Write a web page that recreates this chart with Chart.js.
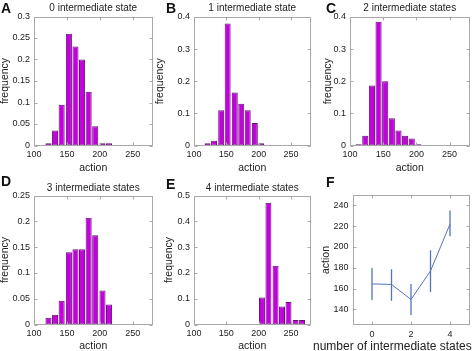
<!DOCTYPE html>
<html><head><meta charset="utf-8">
<script src="https://cdn.jsdelivr.net/npm/chart.js@4.4.0/dist/chart.umd.min.js"></script>
<style>
html,body{margin:0;padding:0;background:#fff;overflow:hidden;width:474px;height:351px;position:relative;}
canvas{position:absolute;left:0;top:0;}
.lbl{position:absolute;font-family:"Liberation Sans",Arial,sans-serif;color:#111;white-space:nowrap;}
.letter{font-weight:bold;font-size:14px;line-height:14px;}
.ttl{font-size:10px;line-height:10px;text-align:center;color:#222;}
.xl{font-size:12px;line-height:12px;color:#222;}
</style></head><body>
<canvas id="cA" width="474" height="351"></canvas>
<canvas id="cB" width="474" height="351"></canvas>
<canvas id="cC" width="474" height="351"></canvas>
<canvas id="cD" width="474" height="351"></canvas>
<canvas id="cE" width="474" height="351"></canvas>
<canvas id="cF" width="474" height="351"></canvas>
<div class="lbl letter" style="left:1px;top:0.5px">A</div>
<div class="lbl letter" style="left:166px;top:0.5px">B</div>
<div class="lbl letter" style="left:326px;top:0.5px">C</div>
<div class="lbl letter" style="left:1px;top:174px">D</div>
<div class="lbl letter" style="left:166px;top:177px">E</div>
<div class="lbl letter" style="left:326px;top:175px">F</div>
<div class="lbl ttl" id="tA"></div>
<div class="lbl ttl" id="tB"></div>
<div class="lbl ttl" id="tC"></div>
<div class="lbl ttl" id="tD"></div>
<div class="lbl ttl" id="tE"></div>
<div class="lbl xl" id="xF"></div>
<script>
// ---------- data ----------
const titles = ["0 intermediate state", "1 intermediate state", "2 intermediate states", "3 intermediate states", "4 intermediate states"];
const actionTicks = [100, 150, 200, 250];

const binsA = [122, 132, 142, 153, 163, 173, 183, 193, 204, 214];
const freqA = [0.005, 0.035, 0.095, 0.26, 0.23, 0.2, 0.125, 0.045, 0.005, 0.005];
const yTicksA = [0, 0.05, 0.1, 0.15, 0.2, 0.25, 0.3];

const binsB = [121, 131, 142, 152, 163, 173, 183, 194, 204];
const freqB = [0.007, 0.015, 0.11, 0.38, 0.165, 0.13, 0.11, 0.07, 0.007];
const yTicksB = [0, 0.1, 0.2, 0.3, 0.4];

const binsC = [113, 123, 133, 143, 153, 163, 173, 183, 193, 203];
const freqC = [0.004, 0.03, 0.187, 0.385, 0.2, 0.085, 0.047, 0.03, 0.022, 0.004];
const yTicksC = [0, 0.1, 0.2, 0.3, 0.4];

const binsD = [122, 132, 142, 153, 163, 173, 183, 193, 204, 214];
const freqD = [0.013, 0.019, 0.046, 0.14, 0.146, 0.146, 0.207, 0.173, 0.066, 0.039];
const yTicksD = [0, 0.05, 0.1, 0.15, 0.2, 0.25];

const binsE = [205, 215, 226, 236, 246, 257, 267];
const freqE = [0.105, 0.472, 0.228, 0.07, 0.087, 0.017, 0.017];
const yTicksE = [0, 0.1, 0.2, 0.3, 0.4, 0.5];

const statesF = [0, 1, 2, 3, 4];
const meanF = [164.5, 164, 149.5, 177, 222];
const lowF = [149, 148.4, 134.5, 156.8, 210.3];
const highF = [179.7, 178.7, 164.5, 196.8, 235];
const xTicksF = [0, 2, 4];
const yTicksF = [140, 160, 180, 200, 220, 240];
const xLabelF = "number of intermediate states";
const yLabel = "frequency";
const xLabel = "action";
const yLabelF = "action";

// ---------- styling / layout ----------
const FONT = '"Liberation Sans", Arial, sans-serif';
const TXT = '#222';
const W = 474, H = 351;

const boxPlugin = {
  id: 'matlabBox',
  afterDraw(chart) {
    const {ctx, chartArea: a, scales} = chart;
    ctx.save();
    ctx.strokeStyle = '#a8a8a8';
    ctx.lineWidth = 1;
    const L = Math.round(a.left) + 0.5, R = Math.round(a.right) - 0.5;
    const T = Math.round(a.top) + 0.5, B = Math.round(a.bottom) - 0.5;
    ctx.strokeRect(L, T, R - L, B - T);
    ctx.beginPath();
    const tl = 3;
    scales.x.ticks.forEach(t => {
      const px = Math.round(scales.x.getPixelForValue(t.value)) + 0.5;
      ctx.moveTo(px, B); ctx.lineTo(px, B - tl);
      ctx.moveTo(px, T); ctx.lineTo(px, T + tl);
    });
    scales.y.ticks.forEach(t => {
      const py = Math.round(scales.y.getPixelForValue(t.value)) + 0.5;
      ctx.moveTo(L, py); ctx.lineTo(L + tl, py);
      ctx.moveTo(R, py); ctx.lineTo(R - tl, py);
    });
    ctx.stroke();
    ctx.restore();
  }
};

function setTicks(list) {
  return function (scale) { scale.ticks = list.map(v => ({value: v})); };
}
function fixW(w) { return function (s) { s.width = w; }; }
function fixH(h) { return function (s) { s.height = h; }; }

function axisOpts(min, max, tickList, title, fitFn, fmt) {
  return {
    type: 'linear', min: min, max: max, offset: false,
    afterBuildTicks: setTicks(tickList),
    afterFit: fitFn,
    grid: {display: false, drawTicks: false},
    border: {display: false},
    ticks: {color: TXT, font: {family: FONT, size: 9}, padding: 4, maxRotation: 0, autoSkip: false,
            callback: fmt || (v => String(v))},
    title: title ? {display: true, text: title, color: TXT, font: {family: FONT, size: 10.5, lineHeight: 1}, padding: 0} : {display: false}
  };
}

function histChart(id, bins, freq, yMax, yTicks, box, yW, xH) {
  const padBottom = H - box.b - xH;
  return new Chart(document.getElementById(id), {
    type: 'bar',
    data: {
      datasets: [{
        data: bins.map((b, i) => ({x: b, y: freq[i]})),
        backgroundColor: 'rgb(196,0,222)',
        borderColor: 'rgb(95,20,110)',
        borderWidth: 1,
        borderSkipped: false,
        categoryPercentage: 1,
        barPercentage: 0.92
      }]
    },
    options: {
      responsive: false, animation: false, devicePixelRatio: 1,
      layout: {padding: {left: box.l - yW, right: W - box.r, top: box.t, bottom: padBottom}},
      plugins: {legend: {display: false}, tooltip: {enabled: false}},
      scales: {
        x: axisOpts(100, 280, actionTicks, xLabel, fixH(xH)),
        y: axisOpts(0, yMax, yTicks, yLabel, fixW(yW))
      }
    },
    plugins: [boxPlugin]
  });
}

function placeTitle(id, text, box, y) {
  const d = document.getElementById(id);
  d.textContent = text;
  d.style.left = box.l + 'px';
  d.style.width = (box.r - box.l) + 'px';
  d.style.top = y + 'px';
}

const boxA = {l: 34, r: 152.5, t: 16.5, b: 145.5};
const boxB = {l: 194, r: 310.5, t: 17, b: 145.5};
const boxC = {l: 350, r: 469.5, t: 17, b: 145.5};
const boxD = {l: 34, r: 152.5, t: 195.5, b: 324.5};
const boxE = {l: 194, r: 310.5, t: 195.5, b: 324.5};
const boxF = {l: 352.5, r: 469.5, t: 195, b: 325};

histChart('cA', binsA, freqA, 0.3, yTicksA, boxA, 34, 28);
histChart('cB', binsB, freqB, 0.4, yTicksB, boxB, 39, 28);
histChart('cC', binsC, freqC, 0.4, yTicksC, boxC, 27, 28);
histChart('cD', binsD, freqD, 0.25, yTicksD, boxD, 34, 26.5);
histChart('cE', binsE, freqE, 0.5, yTicksE, boxE, 30, 26.5);

placeTitle('tA', titles[0], boxA, 3.3);
placeTitle('tB', titles[1], boxB, 3.3);
placeTitle('tC', titles[2], boxC, 3.3);
placeTitle('tD', titles[3], boxD, 183.3);
placeTitle('tE', titles[4], boxE, 183.3);

const xf = document.getElementById('xF');
xf.textContent = xLabelF;
xf.style.left = '313px';
xf.style.top = '340px';

const errPlugin = {
  id: 'errbars',
  afterDatasetsDraw(chart) {
    const {ctx, scales: {x, y}} = chart;
    ctx.save();
    ctx.strokeStyle = 'rgb(86,116,184)';
    ctx.lineWidth = 1.3;
    ctx.beginPath();
    statesF.forEach((s, i) => {
      const px = x.getPixelForValue(s);
      ctx.moveTo(px, y.getPixelForValue(lowF[i]));
      ctx.lineTo(px, y.getPixelForValue(highF[i]));
    });
    ctx.stroke();
    ctx.restore();
  }
};

new Chart(document.getElementById('cF'), {
  type: 'line',
  data: {
    datasets: [{
      data: statesF.map((s, i) => ({x: s, y: meanF[i]})),
      borderColor: 'rgb(86,116,184)',
      borderWidth: 1,
      pointRadius: 0,
      tension: 0,
      fill: false
    }]
  },
  options: {
    responsive: false, animation: false, devicePixelRatio: 1,
    layout: {padding: {left: boxF.l - 31.5, right: W - boxF.r, top: boxF.t, bottom: H - boxF.b - 20}},
    plugins: {legend: {display: false}, tooltip: {enabled: false}},
    scales: {
      x: axisOpts(-1, 5, xTicksF, null, fixH(20)),
      y: axisOpts(125, 250, yTicksF, yLabelF, fixW(31.5))
    }
  },
  plugins: [boxPlugin, errPlugin]
});
</script>
</body></html>
